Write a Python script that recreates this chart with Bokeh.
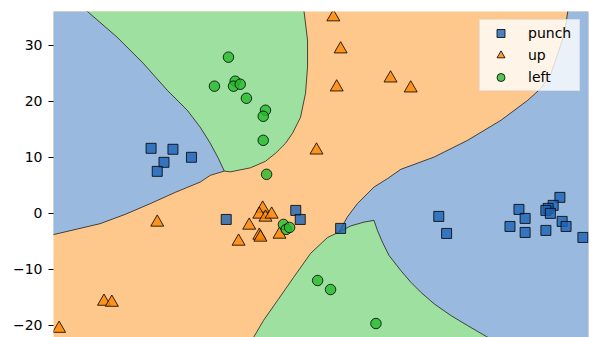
import numpy as np
from bokeh.plotting import figure
from bokeh.models import Range1d, FixedTicker, Legend, LegendItem
from bokeh.embed import file_html
from bokeh.resources import INLINE

# ---------------- data ----------------
class_names = ["punch", "up", "left"]

punch_x = [-27.5, -23.6, -20.3, -25.2, -26.4, -14.1, -1.7, -0.9, 6.3, 23.8, 25.2,
           38.1, 39.2, 36.5, 39.2, 42.9, 45.4, 44.2, 43.3, 42.9, 43.7, 45.8, 46.5, 49.5]
punch_y = [11.56, 11.39, 9.96, 9.06, 7.45, -1.13, 0.48, -1.13, -2.73, -0.59, -3.63,
           0.66, -0.95, -2.38, -3.45, -3.09, 2.81, 1.38, 0.84, 0.48, -0.05, -1.48, -2.38, -4.34]

up_x = [5.0, 6.3, 15.2, 5.6, 18.8, 2.0, -26.4, -35.9, -34.5, -43.9,
        -7.6, -8.2, -7.1, -6.0, -10.0, -11.9, -8.2, -8.0, -4.6]
up_y = [34.98, 29.26, 24.07, 22.47, 22.29, 11.21, -1.66, -15.78, -15.96, -20.61,
        0.84, -0.23, -0.77, -0.23, -2.2, -5.06, -3.99, -4.34, -3.81]

left_x = [-13.7, -16.2, -12.5, -12.8, -11.6, -10.5, -7.1, -7.5, -7.5, -6.9,
          -3.9, -3.4, -2.8, 2.2, 4.5, 12.6]
left_y = [27.83, 22.65, 23.54, 22.65, 23.0, 20.5, 18.36, 17.28, 12.99, 6.92,
          -2.02, -2.91, -2.56, -12.03, -13.64, -19.71]

y_ticks = [-20, -10, 0, 10, 20, 30]
y_tick_labels = ["\u221220", "\u221210", "0", "10", "20", "30"]

# decision boundaries (data units)
# punch | left, upper-left (top edge -> triple point)
b_punch_left_ul_x = [-40.17, -38.92, -33.56, -28.91, -24.62, -21.05, -18.73, -16.94, -15.51, -14.44]
b_punch_left_ul_y = [37.12, 36.05, 31.40, 26.76, 21.93, 18.36, 15.32, 12.46, 9.78, 7.50]
# punch | up, lower-left (triple point -> left edge)
b_punch_up_ll_x = [-14.44, -16.94, -18.73, -23.19, -27.66, -32.13, -36.60, -45.0, -47.32]
b_punch_up_ll_y = [7.50, 6.74, 5.54, 3.70, 1.68, -0.23, -1.89, -3.86, -4.43]
# left | up, top region (triple point -> top edge)
b_left_up_top_x = [-14.44, -13.36, -9.79, -7.11, -5.32, -3.53, -2.28, -0.85, 0.04, 0.40, 0.40, -0.23, -0.50]
b_left_up_top_y = [7.50, 7.36, 8.08, 9.24, 10.67, 12.46, 14.24, 17.10, 21.39, 26.04, 30.87, 36.05, 37.12]
# up | punch, right (top edge -> lower triple point)
b_up_punch_r_x = [47.40, 46.81, 46.21, 45.03, 43.83, 42.04, 39.67, 34.89, 28.94, 22.97, 17.02,
                  14.64, 12.25, 9.28, 7.49, 5.99]
b_up_punch_r_y = [37.12, 36.05, 32.06, 28.49, 24.97, 22.29, 20.14, 16.57, 12.99, 10.01, 7.81,
                  6.15, 4.65, 1.68, -0.71, -3.40]
# punch | left, lower right (triple point -> bottom edge)
b_punch_left_lr_x = [5.99, 8.08, 10.46, 12.25, 12.86, 13.75, 14.93, 17.02, 18.81, 20.59, 22.97,
                     25.96, 28.94, 32.52, 34.89]
b_punch_left_lr_y = [-3.40, -2.29, -1.61, -1.30, -3.09, -5.18, -7.56, -10.24, -12.33, -14.12, -16.19,
                     -18.28, -20.07, -22.16, -23.29]
# left | up, bottom region (triple point -> bottom edge)
b_left_up_bot_x = [5.99, 3.97, 0.93, -2.10, -4.96, -7.47, -9.25, -9.97]
b_left_up_bot_y = [-3.40, -4.34, -7.20, -11.49, -15.60, -19.18, -22.22, -23.47]

base_colors = ["#1c64b6", "#fd8500", "#25ba2c"]
markers = ["square", "triangle", "circle"]

xs_all = [punch_x, up_x, left_x]
ys_all = [punch_y, up_y, left_y]

x_min = min(min(a) for a in xs_all) - 1
x_max = max(max(a) for a in xs_all) + 1
y_min = -22.2
y_max = max(max(a) for a in ys_all) + 1


def region_color(h, a=0.45):
    h = h.lstrip("#")
    rgb = [int(h[i:i + 2], 16) for i in (0, 2, 4)]
    out = [int(round(a * c + (1 - a) * 255)) for c in rgb]
    return "#%02x%02x%02x" % tuple(out)


reg = [region_color(c) for c in base_colors]

# ---------------- figure ----------------
p = figure(width=600, height=337, x_range=Range1d(x_min, x_max), y_range=Range1d(y_min, y_max),
           output_backend="svg", toolbar_location=None, x_axis_location=None,
           min_border_left=53, min_border_right=12, min_border_top=11, min_border_bottom=0)
p.outline_line_color = None
p.grid.visible = False
p.background_fill_color = "white"

# far corners beyond the frame (regions are clipped to it)
XL, XR, YB, YT = x_min - 10, x_max + 10, y_min - 10, y_max + 10

# up region = everything else
p.quad(left=[XL], right=[XR], bottom=[YB], top=[YT], fill_color=reg[1], line_color=None)

# punch, left side
px1 = [XL] + b_punch_left_ul_x + b_punch_up_ll_x[1:] + [XL]
py1 = [YT] + b_punch_left_ul_y + b_punch_up_ll_y[1:] + [b_punch_up_ll_y[-1]]
# left, top
px2 = b_punch_left_ul_x + b_left_up_top_x[1:]
py2 = b_punch_left_ul_y + b_left_up_top_y[1:]
# punch, right side
px3 = b_up_punch_r_x + b_punch_left_lr_x[1:] + [XR, XR]
py3 = b_up_punch_r_y + b_punch_left_lr_y[1:] + [b_punch_left_lr_y[-1], YT]
# left, bottom
px4 = b_punch_left_lr_x + b_left_up_bot_x[::-1][:-1]
py4 = b_punch_left_lr_y + b_left_up_bot_y[::-1][:-1]

p.patches(xs=[px1, px3], ys=[py1, py3], fill_color=reg[0], line_color=None)
p.patches(xs=[px2, px4], ys=[py2, py4], fill_color=reg[2], line_color=None)

p.multi_line(xs=[b_punch_left_ul_x, b_punch_up_ll_x, b_left_up_top_x, b_up_punch_r_x,
                 b_punch_left_lr_x, b_left_up_bot_x],
             ys=[b_punch_left_ul_y, b_punch_up_ll_y, b_left_up_top_y, b_up_punch_r_y,
                 b_punch_left_lr_y, b_left_up_bot_y],
             line_color="black", line_width=0.9, line_alpha=0.75)

renderers = []
sizes = [10, 13, 10.5]
for k in range(3):
    r = p.scatter(xs_all[k], ys_all[k], marker=markers[k], size=sizes[k],
                  fill_color=base_colors[k], fill_alpha=0.8,
                  line_color="black", line_width=1, line_alpha=0.8)
    renderers.append(r)

legend = Legend(items=[LegendItem(label=class_names[k], renderers=[renderers[k]]) for k in range(3)],
                location="top_right")
legend.margin = 8
legend.padding = 3
legend.spacing = 2
legend.glyph_height = 20
legend.glyph_width = 35
legend.label_height = 20
legend.label_width = 48
legend.label_standoff = 10
legend.label_text_font = "DejaVu Sans"
legend.label_text_font_size = "14px"
legend.label_text_color = "black"
legend.border_line_color = "#cccccc"
legend.background_fill_color = "white"
legend.background_fill_alpha = 0.8
p.add_layout(legend)

ax = p.yaxis[0]
ax.ticker = FixedTicker(ticks=y_ticks)
ax.major_label_overrides = {t: l for t, l in zip(y_ticks, y_tick_labels)}
ax.minor_tick_line_color = None
ax.axis_line_color = None
ax.major_tick_out = 5
ax.major_tick_in = 0
ax.major_tick_line_color = "black"
ax.major_label_standoff = 6
ax.major_label_text_font = "DejaVu Sans"
ax.major_label_text_font_size = "14px"
ax.major_label_text_color = "black"

open("out.html", "w").write(file_html(p, INLINE))
